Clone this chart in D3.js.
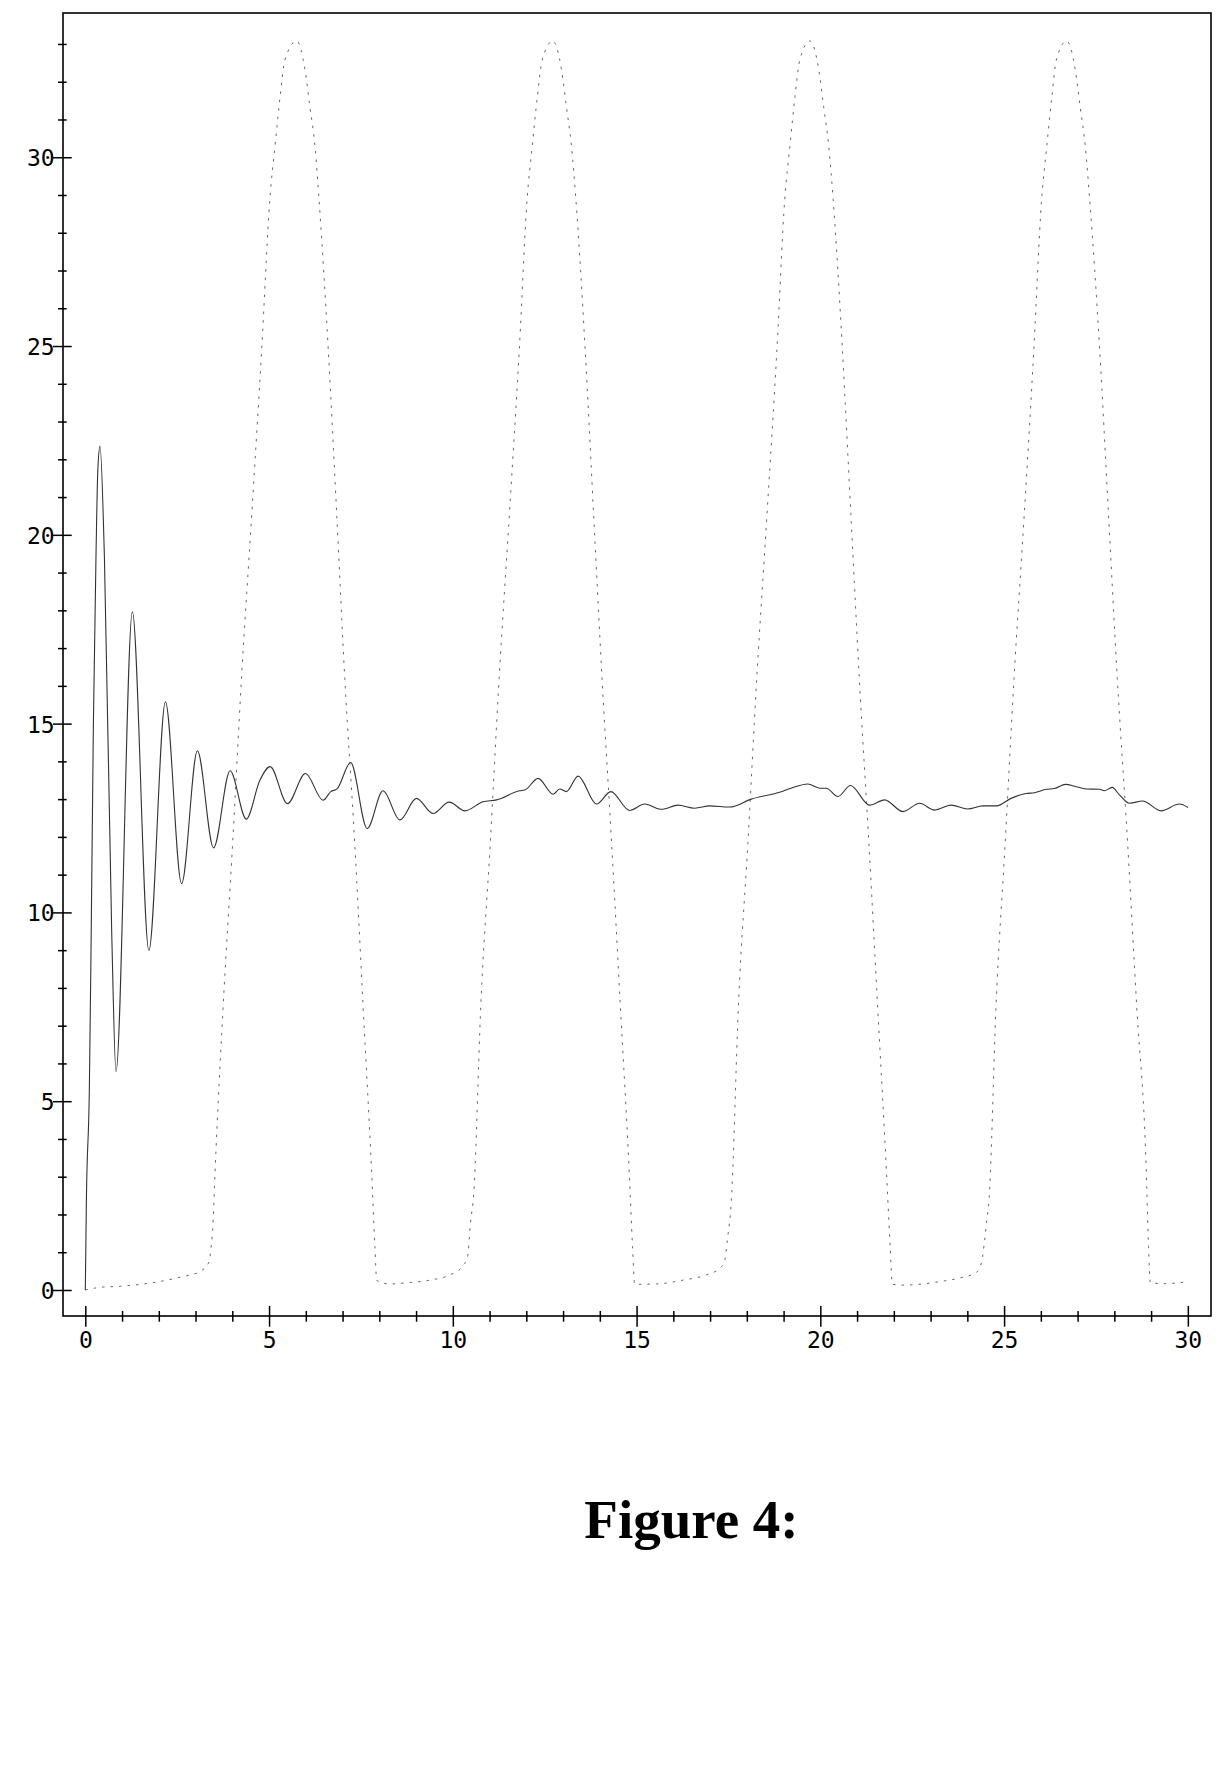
<!DOCTYPE html>
<html>
<head>
<meta charset="utf-8">
<script src="https://cdn.jsdelivr.net/npm/d3@7"></script>
<style>
  body { margin: 0; background: #fff; }
  svg { display: block; }
</style>
</head>
<body>
<div id="chart"></div>
<script>
// ---- data ----
// solid curve: damped oscillation settling near 12.8
const solidX = [0, 0.03, 0.11, 0.16, 0.22, 0.29, 0.34, 0.40, 0.52, 0.72, 0.835,
  1.28, 1.73, 2.18, 2.62, 3.05, 3.49, 3.94, 4.38, 4.75, 5.03, 5.50, 5.99, 6.47,
  6.68, 6.85, 7.22, 7.67, 8.10, 8.56, 9.01, 9.46, 9.90, 10.33, 10.82, 11.19,
  11.82, 11.96, 12.32, 12.73, 12.91, 13.09, 13.41, 13.91, 14.30, 14.81, 15.22,
  15.68, 16.13, 16.58, 16.99, 17.53, 18.12, 18.89, 19.26, 19.66, 19.98, 20.16,
  20.48, 20.82, 21.34, 21.75, 22.25, 22.70, 23.11, 23.56, 24.01, 24.42, 24.79,
  25.19, 25.60, 25.83, 26.15, 26.37, 26.67, 26.96, 27.23, 27.60, 27.73, 27.94,
  28.14, 28.41, 28.77, 29.27, 29.77, 30.00];
const solidY = [0, 2.4, 5.3, 9.4, 15.0, 19.4, 21.7, 22.35, 19.4, 9.4, 5.78,
  17.96, 8.99, 15.58, 10.76, 14.28, 11.71, 13.75, 12.47, 13.50, 13.86, 12.88, 13.68, 12.97,
  13.20, 13.27, 13.97, 12.22, 13.22, 12.45, 13.02, 12.62, 12.92, 12.69, 12.93, 12.98,
  13.22, 13.24, 13.55, 13.13, 13.27, 13.20, 13.61, 12.87, 13.20, 12.70, 12.87,
  12.73, 12.84, 12.76, 12.82, 12.79, 13.00, 13.18, 13.31, 13.40, 13.29, 13.29,
  13.07, 13.36, 12.84, 12.98, 12.67, 12.89, 12.71, 12.84, 12.74, 12.82, 12.82,
  13.02, 13.15, 13.17, 13.26, 13.28, 13.39, 13.33, 13.27, 13.26, 13.22, 13.31,
  13.11, 12.89, 12.95, 12.69, 12.87, 12.78];

// dotted curve: periodic pulses peaking near 33
const dotX = [0.00, 0.40, 0.95, 1.94, 2.58, 3.12, 3.35, 3.42, 3.48, 3.53,
  3.75, 4.01, 4.25, 4.53, 4.80, 5.02, 5.16, 5.30, 5.43, 5.75,
  5.98, 6.11, 6.25, 6.36, 6.61, 6.84, 7.06, 7.33, 7.56, 7.79, 7.88, 7.93,
  8.29, 8.74, 9.37, 9.92, 10.24, 10.40, 10.48, 10.57,
  10.76, 11.02, 11.26, 11.54, 11.81, 12.02, 12.16, 12.30, 12.43, 12.72,
  12.96, 13.09, 13.23, 13.35, 13.60, 13.83, 14.06, 14.32, 14.56, 14.80, 14.89, 14.95,
  15.54, 16.26, 16.90, 17.26, 17.40, 17.47, 17.58,
  17.77, 18.03, 18.27, 18.55, 18.82, 19.03, 19.17, 19.31, 19.44, 19.72,
  19.96, 20.09, 20.23, 20.35, 20.60, 20.83, 21.06, 21.32, 21.56, 21.80, 21.90, 21.96,
  22.25, 23.24, 23.88, 24.24, 24.38, 24.53, 24.59,
  24.78, 25.03, 25.27, 25.55, 25.81, 26.02, 26.16, 26.30, 26.42, 26.70,
  26.94, 27.07, 27.21, 27.33, 27.60, 27.84, 28.08, 28.36, 28.61, 28.87, 28.93, 28.98,
  29.40, 30.00];
const dotY = [0.00, 0.07, 0.10, 0.21, 0.34, 0.49, 0.71, 1.10, 1.85, 3.10,
  7.50, 11.85, 16.20, 20.56, 24.92, 28.87, 30.28, 31.60, 32.57, 33.08,
  32.30, 31.34, 30.28, 28.87, 24.92, 20.56, 16.20, 11.85, 7.49, 3.13, 1.15, 0.25,
  0.16, 0.19, 0.26, 0.40, 0.60, 0.88, 1.77, 2.56,
  7.50, 11.85, 16.20, 20.56, 24.92, 28.87, 30.28, 31.60, 32.57, 33.08,
  32.30, 31.34, 30.28, 28.87, 24.92, 20.56, 16.20, 11.85, 7.49, 3.13, 1.15, 0.15,
  0.16, 0.26, 0.40, 0.57, 0.79, 1.32, 2.38,
  7.50, 11.85, 16.20, 20.56, 24.92, 28.87, 30.28, 31.60, 32.57, 33.08,
  32.30, 31.34, 30.28, 28.87, 24.92, 20.56, 16.20, 11.85, 7.49, 3.13, 1.15, 0.15,
  0.13, 0.22, 0.34, 0.46, 0.71, 1.85, 2.38,
  7.50, 11.85, 16.20, 20.56, 24.92, 28.87, 30.28, 31.60, 32.57, 33.08,
  32.30, 31.34, 30.28, 28.87, 24.92, 20.56, 16.20, 11.85, 7.49, 3.13, 1.15, 0.18,
  0.17, 0.22];

// axis ticks
const xMajor = [0, 5, 10, 15, 20, 25, 30];
const xMinor = d3.range(0, 31).filter(v => v % 5 !== 0);
const yMajor = [0, 5, 10, 15, 20, 25, 30];
const yMinor = d3.range(1, 34).filter(v => v % 5 !== 0);

const caption = "Figure 4:";

/**--------------------------
 Mise en page
 --------------------------*/
const width = 1227, height = 1774;
const box = { left: 63, top: 13, right: 1211, bottom: 1316 };

const svg = d3.select("#chart")
  .append("svg")
  .attr("width", width)
  .attr("height", height);

svg.append("rect").attr("width", width).attr("height", height).attr("fill", "#fff");

const x = d3.scaleLinear().domain([-0.607, 30.63]).range([box.left, box.right]);
const y = d3.scaleLinear().domain([-0.689, 33.82]).range([box.bottom, box.top]);

// cadre
svg.append("rect")
  .attr("x", box.left).attr("y", box.top)
  .attr("width", box.right - box.left).attr("height", box.bottom - box.top)
  .attr("fill", "none").attr("stroke", "#000").attr("stroke-width", 1.6);

const tickFont = "'DejaVu Sans Mono', monospace";

// axe Y : grands et petits traits qui traversent l'axe
const yMinorG = svg.append("g")
  .attr("transform", `translate(${box.left},0)`)
  .call(d3.axisLeft(y).tickValues(yMinor).tickFormat("").tickSize(5));
yMinorG.selectAll(".tick line").attr("x1", 3.7);

const yMajorG = svg.append("g")
  .attr("transform", `translate(${box.left},0)`)
  .call(d3.axisLeft(y).tickValues(yMajor).tickFormat(d3.format("d")).tickSize(10));
yMajorG.selectAll(".tick line").attr("x1", 8.7);
yMajorG.selectAll(".tick text")
  .attr("x", -8.3).attr("dy", "0.37em")
  .style("font-family", tickFont).style("font-size", "23px").attr("fill", "#000");

// axe X
const xMinorG = svg.append("g")
  .attr("transform", `translate(0,${box.bottom})`)
  .call(d3.axisBottom(x).tickValues(xMinor).tickFormat("").tickSize(5.7));
xMinorG.selectAll(".tick line").attr("y1", -5);

const xMajorG = svg.append("g")
  .attr("transform", `translate(0,${box.bottom})`)
  .call(d3.axisBottom(x).tickValues(xMajor).tickFormat(d3.format("d")).tickSize(10.7));
xMajorG.selectAll(".tick line").attr("y1", -10);
xMajorG.selectAll(".tick text")
  .attr("y", 16).attr("dy", "0.71em")
  .style("font-family", tickFont).style("font-size", "23px").attr("fill", "#000");

svg.selectAll(".domain").remove();
svg.selectAll(".tick line").attr("stroke", "#000").attr("stroke-width", 1.5);

// courbes
const line = d3.line()
  .x(d => x(d[0]))
  .y(d => y(d[1]))
  .curve(d3.curveMonotoneX);

svg.append("path")
  .datum(d3.zip(dotX, dotY))
  .attr("d", line)
  .attr("fill", "none")
  .attr("stroke", "#666")
  .attr("stroke-width", 1)
  .attr("stroke-dasharray", "2.5,6");

svg.append("path")
  .datum(d3.zip(solidX, solidY))
  .attr("d", line)
  .attr("fill", "none")
  .attr("stroke", "#333")
  .attr("stroke-width", 1.1);

// légende sous le graphique
svg.append("text")
  .attr("x", 691.5)
  .attr("y", 1538)
  .attr("text-anchor", "middle")
  .style("font-family", "'Liberation Serif', 'DejaVu Serif', serif")
  .style("font-weight", "bold")
  .style("font-size", "55px")
  .attr("fill", "#000")
  .text(caption);
</script>
</body>
</html>
